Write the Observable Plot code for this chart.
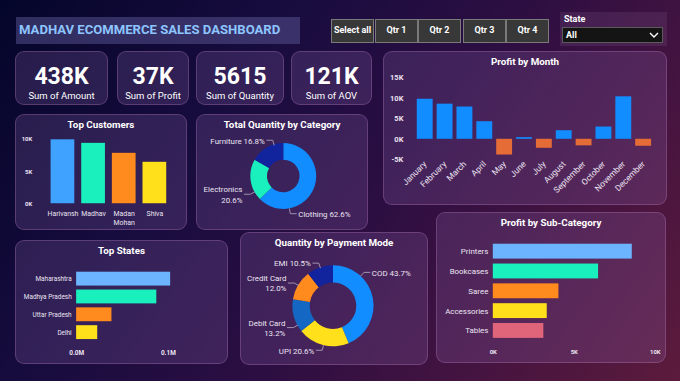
<!DOCTYPE html>
<html>
<head>
<meta charset="utf-8">
<script src="https://cdn.jsdelivr.net/npm/d3@7"></script>
<script src="https://cdn.jsdelivr.net/npm/@observablehq/plot@0.6"></script>
<style>
html, body { margin:0; padding:0; width:680px; height:381px; overflow:hidden; }
body {
  position: relative;
  font-family: Roboto, "DejaVu Sans", sans-serif;
  color:#fff;
  background: linear-gradient(125deg, #04052a 0%, #170c3e 30%, #2c0e42 55%, #451440 78%, #5c1b3c 100%);
}
.panel { position:absolute; box-sizing:border-box; border-radius:9px;
  background: rgba(150,110,180,0.22); border:1px solid rgba(210,140,210,0.28); }
.ptitle { position:absolute; left:0; right:0; top:4px; text-align:center; font-weight:700; font-size:9.8px; line-height:12px; color:#fff; white-space:nowrap; }
.kpi .num { position:absolute; left:0; right:0; top:12px; text-align:center; font-size:23px; font-weight:700; line-height:26px; }
.kpi .lab { position:absolute; left:0; right:0; top:38px; text-align:center; font-size:9.5px; line-height:12px; white-space:nowrap; }
#title { position:absolute; left:16px; top:17px; width:284px; height:27px; background: rgba(100,95,160,0.45); }
#title span { position:absolute; left:3px; top:5px; font-size:13.1px; font-weight:700; color:#8dc5ff; line-height:16px; white-space:nowrap; }
.btn { position:absolute; top:19px; height:24px; box-sizing:border-box; background:#383838; border:1.5px solid #7a7a7a; font-size:9px; font-weight:700; text-align:center; line-height:21px; color:#fff; white-space:nowrap; }
#statebox { position:absolute; left:560px; top:12px; width:107px; height:34px; background: rgba(110,70,120,0.3); }
#statelab { position:absolute; left:4px; top:1px; font-size:9px; font-weight:700; line-height:12px; }
#dd { position:absolute; left:2px; top:15px; width:101px; height:16px; box-sizing:border-box; background:#141414; border:1px solid #5a5a5a; }
#dd span { position:absolute; left:3px; top:1px; font-size:9px; font-weight:700; line-height:13px; }
#dd svg { position:absolute; right:3px; top:4px; }
.panel svg.plot { position:absolute; left:-1px; top:-1px; }
</style>
</head>
<body>
<div id="title"><span></span></div>
<div id="buttons"></div>
<div id="statebox"><div id="statelab"></div><div id="dd"><span></span>
<svg width="10" height="7"><polyline points="1,1 5,5 9,1" fill="none" stroke="#fff" stroke-width="1.4"/></svg></div></div>
<div id="kpis"></div>
<div class="panel" id="pMonth" style="left:383px;top:51px;width:284px;height:154px"><div class="ptitle">Profit by Month</div></div>
<div class="panel" id="pCust" style="left:15px;top:114px;width:172px;height:116px"><div class="ptitle">Top Customers</div></div>
<div class="panel" id="pCat" style="left:196px;top:114px;width:172px;height:116px"><div class="ptitle">Total Quantity by Category</div></div>
<div class="panel" id="pStates" style="left:15px;top:240px;width:213px;height:124px"><div class="ptitle">Top States</div></div>
<div class="panel" id="pPay" style="left:240px;top:232px;width:188px;height:133px"><div class="ptitle">Quantity by Payment Mode</div></div>
<div class="panel" id="pSub" style="left:436px;top:212px;width:230px;height:151px"><div class="ptitle">Profit by Sub-Category</div></div>
<script>
// ---------------- data ----------------
const dashboardTitle = "MADHAV ECOMMERCE SALES DASHBOARD";
const quarterButtons = ["Select all", "Qtr 1", "Qtr 2", "Qtr 3", "Qtr 4"];
const stateFilterLabel = "State";
const stateFilterValue = "All";

const kpiValues = ["438K", "37K", "5615", "121K"];
const kpiLabels = ["Sum of Amount", "Sum of Profit", "Sum of Quantity", "Sum of AOV"];

const months = ["January","February","March","April","May","June","July","August","September","October","November","December"];
const monthProfit = [9800, 8600, 7900, 4300, -3850, 400, -2200, 2100, -1600, 3000, 10400, -1700];
const monthTicks = [-5000, 0, 5000, 10000, 15000];

const customers = ["Harivansh", "Madhav", "Madan Mohan", "Shiva"];
const customerAmount = [9950, 9400, 7850, 6450];
const customerTicks = [0, 5000, 10000];

const categories = ["Clothing", "Electronics", "Furniture"];
const categoryShare = [62.6, 20.6, 16.8];

const states = ["Maharashtra", "Madhya Pradesh", "Uttar Pradesh", "Delhi"];
const stateAmount = [102500, 87400, 38500, 23000];
const stateTicks = [0, 100000];

const payModes = ["COD", "UPI", "Debit Card", "Credit Card", "EMI"];
const payShare = [43.7, 20.6, 13.2, 12.0, 10.5];

const subCats = ["Printers", "Bookcases", "Saree", "Accessories", "Tables"];
const subCatProfit = [8580, 6500, 4050, 3330, 3120];
const subCatTicks = [0, 5000, 10000];

// ---------------- style ----------------
const BLUE = "#118DFF", ORANGE = "#E66C37";
const fourColors = ["#3FA2FF", "#19F0BE", "#FF8A1E", "#FFE01A"];
const barColors5 = ["#6CB4FF", "#19F0BE", "#FF8A1E", "#FFE01A", "#E0647A"];
const tickColor = "#ece4f2";
const baseStyle = {background: "transparent", color: "#fff", fontFamily: "Roboto, sans-serif", overflow: "visible"};
const kFmt = d => (d / 1000) + "K";

// ---------------- header ----------------
document.querySelector("#title span").textContent = dashboardTitle;
const btnLefts = [331, 375, 418, 463, 506], btnW = 43;
const bc = document.getElementById("buttons");
quarterButtons.forEach((t, i) => {
  const b = document.createElement("div");
  b.className = "btn"; b.textContent = t;
  b.style.left = btnLefts[i] + "px"; b.style.width = btnW + "px";
  bc.appendChild(b);
});
document.getElementById("statelab").textContent = stateFilterLabel;
document.querySelector("#dd span").textContent = stateFilterValue;

const kpiBoxes = [[15, 93], [117, 72], [196, 88], [291, 81]];
const kc = document.getElementById("kpis");
kpiValues.forEach((v, i) => {
  const d = document.createElement("div");
  d.className = "panel kpi";
  d.style.left = kpiBoxes[i][0] + "px"; d.style.top = "51px";
  d.style.width = kpiBoxes[i][1] + "px"; d.style.height = "54px";
  d.innerHTML = `<div class="num"></div><div class="lab"></div>`;
  d.querySelector(".num").textContent = v;
  d.querySelector(".lab").textContent = kpiLabels[i];
  kc.appendChild(d);
});

function put(id, svg) {
  svg.classList.add("plot");
  document.getElementById(id).appendChild(svg);
}

// ---------------- Profit by Month ----------------
put("pMonth", Plot.plot({
  width: 284, height: 154,
  marginTop: 26.7, marginBottom: 45, marginLeft: 29, marginRight: 10,
  style: baseStyle,
  x: {domain: months, padding: 0.2},
  y: {domain: [-5000, 15000]},
  color: {domain: ["gain", "loss"], range: [BLUE, ORANGE]},
  marks: [
    Plot.barY(monthProfit, {x: months, y: monthProfit, fill: monthProfit.map(v => v >= 0 ? "gain" : "loss")}),
    Plot.axisY({ticks: monthTicks, tickFormat: kFmt, tickSize: 0, tickPadding: 9, fontSize: 7.5, fontWeight: "bold", color: tickColor, label: null}),
    Plot.axisX({tickRotate: -45, tickSize: 0, tickPadding: 3, fontSize: 8.5, color: tickColor, label: null})
  ]
}));

// ---------------- Top Customers ----------------
put("pCust", Plot.plot({
  width: 172, height: 116,
  marginTop: 25.3, marginBottom: 25.7, marginLeft: 27.9, marginRight: 10.3,
  style: baseStyle,
  x: {domain: customers, padding: 0.22},
  y: {domain: [0, 10000]},
  color: {domain: customers, range: fourColors},
  marks: [
    Plot.barY(customerAmount, {x: customers, y: customerAmount, fill: customers}),
    Plot.axisY({ticks: customerTicks, tickFormat: kFmt, tickSize: 0, tickPadding: 11, fontSize: 6, fontWeight: "bold", color: tickColor, label: null}),
    Plot.axisX({tickFormat: d => d.replace(" ", "\n"), tickSize: 0, tickPadding: 6, fontSize: 7, lineHeight: 1.3, color: tickColor, label: null})
  ]
}));

// ---------------- Top States ----------------
put("pStates", Plot.plot({
  width: 213, height: 124,
  marginTop: 28, marginBottom: 20, marginLeft: 61.7, marginRight: 58.7,
  style: baseStyle,
  x: {domain: [0, 100000]},
  y: {domain: states, padding: 0.22},
  color: {domain: states, range: [barColors5[0], ...fourColors.slice(1)]},
  marks: [
    Plot.barX(stateAmount, {y: states, x: stateAmount, fill: states}),
    Plot.axisX({ticks: stateTicks, tickFormat: d => (d / 1e6).toFixed(1) + "M", tickSize: 0, tickPadding: 6.5, fontSize: 6.5, fontWeight: "bold", color: tickColor, label: null}),
    Plot.axisY({tickSize: 0, tickPadding: 5, fontSize: 6.5, color: tickColor, label: null})
  ]
}));

// ---------------- Profit by Sub-Category ----------------
put("pSub", Plot.plot({
  width: 230, height: 151,
  marginTop: 27, marginBottom: 19, marginLeft: 57.3, marginRight: 9.3,
  style: baseStyle,
  x: {domain: [0, 10000]},
  y: {domain: subCats, padding: 0.25},
  color: {domain: subCats, range: barColors5},
  marks: [
    Plot.barX(subCatProfit, {y: subCats, x: subCatProfit, fill: subCats}),
    Plot.axisX({ticks: subCatTicks, tickFormat: kFmt, tickSize: 0, tickPadding: 6.5, fontSize: 6, fontWeight: "bold", color: tickColor, label: null}),
    Plot.axisY({tickSize: 0, tickPadding: 5, fontSize: 8, color: tickColor, label: null})
  ]
}));

// ---------------- Donuts ----------------
function donut({w, h, cx, cy, rO, rI, names, shares, colors, labelAngles, wrap}) {
  const color = Plot.scale({color: {domain: names, range: colors}});
  const arcs = d3.pie().sort(null).value(d => d)(shares);
  const rad = a => a * Math.PI / 180;
  const leaders = [], labels = [];
  arcs.forEach((p, i) => {
    const a = labelAngles[i] != null ? labelAngles[i] : (p.startAngle + p.endAngle) / 2 * 180 / Math.PI;
    const s = Math.sin(rad(a)), c = Math.cos(rad(a));
    const dir = s >= 0 ? 1 : -1;
    const x1 = cx + rO * s, y1 = cy - rO * c;
    const x2 = cx + (rO + 5) * s, y2 = cy - (rO + 5) * c;
    leaders.push({x: x1, y: y1, k: i}, {x: x2, y: y2, k: i}, {x: x2 + dir * 6, y: y2, k: i});
    labels.push({x: x2 + dir * 8, y: y2, side: dir,
      text: names[i] + (wrap[i] ? "\n" : " ") + shares[i].toFixed(1) + "%"});
  });
  const ring = () => {
    const g = d3.create("svg:g").attr("transform", `translate(${cx},${cy})`);
    const arc = d3.arc().innerRadius(rI).outerRadius(rO);
    g.selectAll("path").data(arcs).join("path")
      .attr("d", arc).attr("fill", (d, i) => color.apply(names[i]));
    return g.node();
  };
  const textOpts = {x: "x", y: "y", text: "text", fill: tickColor, fontSize: 8, lineHeight: 1.3};
  return Plot.plot({
    width: w, height: h, margin: 0, style: baseStyle,
    x: {type: "identity", axis: null}, y: {type: "identity", axis: null},
    marks: [
      ring,
      Plot.line(leaders, {x: "x", y: "y", z: "k", stroke: "#b8aec4", strokeWidth: 0.8}),
      Plot.text(labels.filter(d => d.side > 0), {...textOpts, textAnchor: "start"}),
      Plot.text(labels.filter(d => d.side < 0), {...textOpts, textAnchor: "end"})
    ]
  });
}

put("pCat", donut({
  w: 172, h: 116, cx: 88.3, cy: 62.7, rO: 33.3, rI: 16.5,
  names: categories, shares: categoryShare,
  colors: [BLUE, "#19F0BE", "#12239E"],
  labelAngles: [170, 242, 343], wrap: [false, true, false]
}));

put("pPay", donut({
  w: 188, h: 133, cx: 94, cy: 74.5, rO: 41, rI: 23.5,
  names: payModes, shares: payShare,
  colors: [BLUE, "#FFE01A", "#1467C2", "#FF8A1E", "#12239E"],
  labelAngles: [42, null, 242, null, null], wrap: [false, false, true, true, false]
}));
</script>
</body>
</html>
